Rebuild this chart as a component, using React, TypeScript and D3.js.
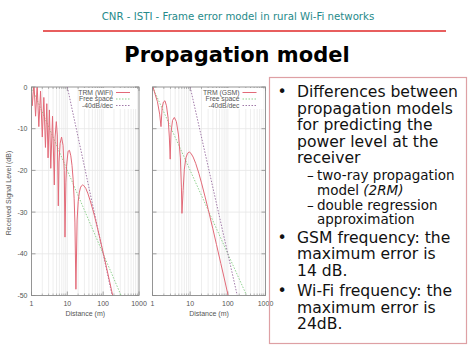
import React from "react";
import * as d3 from "d3";

// ---------- data (distance in m, level in dB) ----------
const TRM_WIFI: [number, number][] = [
  [1.0, -1.0], [1.05, -4.5], [1.17, 1.0], [1.3, -7.0], [1.44, 0.5], [1.6, -9.5],
  [1.79, -1.0], [2.0, -12.0], [2.21, -2.5], [2.45, -14.5], [2.67, -4.0], [2.9, -17.0],
  [3.16, -5.5], [3.45, -19.5], [3.86, -7.0], [4.33, -23.5], [4.55, -12.0], [4.93, -8.3],
  [5.25, -11.5], [5.6, -28.5], [5.85, -18.0], [6.3, -13.5], [6.9, -12.0], [7.6, -14.0],
  [8.2, -20.0], [8.6, -36.0], [9.1, -23.0], [9.5, -19.0], [10.5, -15.4], [11.5, -15.2],
  [12.5, -16.5], [13.5, -18.8], [14.5, -22.1], [15.5, -26.8], [16.3, -32.6], [17.35, -48.5],
  [18.74, -31.9], [20.09, -27.5], [21.54, -25.4], [23.1, -24.2], [24.77, -23.7], [26.56, -23.5],
  [28.48, -23.6], [32.75, -24.3], [37.65, -25.6], [43.29, -27.2], [49.77, -29.0], [57.22, -30.9],
  [65.79, -33.0], [81.11, -36.3], [100, -39.7], [123.3, -43.2], [152, -46.7], [187.4, -50.3],
  [200, -51.5],
];

const TRM_GSM: [number, number][] = [
  [1.0, 0.5], [1.15, -1.5], [1.35, -3.5], [1.55, -6.5], [1.68, -9.5], [1.8, -5.0],
  [1.95, -3.6], [2.14, -3.3], [2.35, -4.5], [2.6, -7.5], [2.8, -12.0], [2.95, -17.3],
  [3.1, -11.0], [3.4, -8.0], [3.8, -7.3], [4.3, -8.3], [4.9, -11.5], [5.5, -17.0],
  [5.85, -24.0], [6.05, -30.3], [6.5, -24.8], [7, -19.7], [7.7, -17.0], [8.5, -15.9],
  [9.5, -15.6], [10.5, -15.9], [12, -16.8], [14, -18.3], [17, -20.7], [20, -23.0],
  [25, -26.4], [30, -29.3], [40, -34.0], [50, -37.8], [65, -42.3], [80, -45.8],
  [100, -49.7], [110, -51.3],
];

const FREE_SPACE: [number, number][] = [[1, 0], [1000, -60]];
const SLOPE_40: [number, number][] = [[10, 0], [1000, -80]];

const X_TICKS = [1, 10, 100, 1000];
const Y_TICKS = [0, -10, -20, -30, -40, -50];
const LEGEND_LABELS = [["TRM (WiFi)", "Free space", "-40dB/dec"], ["TRM (GSM)", "Free space", "-40dB/dec"]];

const BODY_MAIN_1 = ["Differences between", "propagation models", "for predicting the", "power level at the", "receiver"];
const BODY_MAIN_2 = ["GSM frequency: the", "maximum error is", "14 dB."];
const BODY_MAIN_3 = ["Wi-Fi frequency: the", "maximum error is", "24dB."];

// ---------- styles ----------
const C_TRM = "#e26a78";
const C_FREE = "#8fd18f";
const C_S40 = "#a07aa8";
const C_GRID = "#e6e6e6";
const C_FRAME = "#8a8a8a";
const SMALL_FONT = "'Liberation Sans', Arial, sans-serif";
const BODY_FONT = "'DejaVu Sans', Verdana, sans-serif";

const Y0 = 87;
const Y1 = 295.5;

function Panel({ x0, x1, data, labels, showY, id }: any) {
  const x = d3.scaleLog().domain([1, 1000]).range([x0, x1]);
  const y = d3.scaleLinear().domain([-50, 0]).range([Y1, Y0]);
  const line = d3.line<[number, number]>().x((d) => x(d[0])).y((d) => y(d[1]));
  const minors: number[] = [];
  [1, 10, 100].forEach((dec) => {
    for (let m = 2; m <= 9; m++) minors.push(dec * m);
  });
  const legX = x1 - 26;
  const legY = [92.5, 99, 105.5];
  return (
    <g>
      <defs>
        <clipPath id={id}>
          <rect x={x0} y={Y0} width={x1 - x0} height={Y1 - Y0} />
        </clipPath>
      </defs>
      {/* grid */}
      {[...minors, 10, 100].map((v, i) => (
        <line key={"vg" + i} x1={x(v)} x2={x(v)} y1={Y0} y2={Y1} stroke={C_GRID} strokeWidth={0.7} />
      ))}
      {Y_TICKS.slice(1, 5).map((v) => (
        <line key={"hg" + v} x1={x0} x2={x1} y1={y(v)} y2={y(v)} stroke={C_GRID} strokeWidth={0.8} />
      ))}
      {/* ticks */}
      {minors.map((v, i) => (
        <g key={"mt" + i}>
          <line x1={x(v)} x2={x(v)} y1={Y1} y2={Y1 - 2} stroke={C_FRAME} strokeWidth={0.6} />
          <line x1={x(v)} x2={x(v)} y1={Y0} y2={Y0 + 2} stroke={C_FRAME} strokeWidth={0.6} />
        </g>
      ))}
      {X_TICKS.map((v) => (
        <g key={"xt" + v}>
          <line x1={x(v)} x2={x(v)} y1={Y1} y2={Y1 - 4} stroke={C_FRAME} strokeWidth={0.8} />
          <line x1={x(v)} x2={x(v)} y1={Y0} y2={Y0 + 4} stroke={C_FRAME} strokeWidth={0.8} />
          <text x={x(v)} y={306} fontSize={7} fontFamily={SMALL_FONT} fill="#555" textAnchor="middle">
            {v}
          </text>
        </g>
      ))}
      {Y_TICKS.map((v) => (
        <g key={"yt" + v}>
          <line x1={x0} x2={x0 + 4} y1={y(v)} y2={y(v)} stroke={C_FRAME} strokeWidth={0.8} />
          <line x1={x1} x2={x1 - 4} y1={y(v)} y2={y(v)} stroke={C_FRAME} strokeWidth={0.8} />
          {showY && (
            <text x={x0 - 4} y={y(v) + 2.5} fontSize={7} fontFamily={SMALL_FONT} fill="#555" textAnchor="end">
              {v}
            </text>
          )}
        </g>
      ))}
      <text x={(x0 + x1) / 2} y={315.5} fontSize={7} fontFamily={SMALL_FONT} fill="#555" textAnchor="middle">
        Distance (m)
      </text>
      {/* curves */}
      <g clipPath={`url(#${id})`}>
        <path d={line(FREE_SPACE) || ""} fill="none" stroke={C_FREE} strokeWidth={1} strokeDasharray="1.5,1.5" />
        <path d={line(SLOPE_40) || ""} fill="none" stroke={C_S40} strokeWidth={1} strokeDasharray="1.5,1.5" />
        <path d={line(data) || ""} fill="none" stroke={C_TRM} strokeWidth={1} strokeLinejoin="round" />
      </g>
      {/* legend */}
      <rect x={legX - 33} y={Y0 + 1} width={x1 - legX + 31} height={21} fill="#fff" />
      {labels.map((t: string, i: number) => (
        <g key={t}>
          <text x={legX} y={legY[i] + 2.3} fontSize={6.8} fontFamily={SMALL_FONT} fill="#555" textAnchor="end">
            {t}
          </text>
          <line
            x1={legX + 3}
            x2={legX + 17}
            y1={legY[i]}
            y2={legY[i]}
            stroke={i === 0 ? C_TRM : i === 1 ? C_FREE : C_S40}
            strokeWidth={1}
            strokeDasharray={i === 0 ? undefined : "1.5,1.5"}
          />
        </g>
      ))}
      <rect x={x0} y={Y0} width={x1 - x0} height={Y1 - Y0} fill="none" stroke={C_FRAME} strokeWidth={0.9} />
    </g>
  );
}

export default function App() {
  const mainX = 297;
  const mainSize = 15.6;
  const subSize = 13.5;
  return (
    <svg width={474} height={355} style={{ position: "absolute", left: 0, top: 0, background: "#fff" }}>
      <rect width={474} height={355} fill="#fff" />
      <text x={238} y={20} fontSize={10.2} fontFamily={BODY_FONT} fill="#258a8a" textAnchor="middle">
        CNR - ISTI - Frame error model in rural Wi-Fi networks
      </text>
      <line x1={43} x2={446} y1={31} y2={31} stroke="#e02828" strokeWidth={1.3} />
      <text x={237} y={62} fontSize={21} fontWeight="bold" fontFamily={BODY_FONT} fill="#000" textAnchor="middle">
        Propagation model
      </text>

      <Panel x0={31.5} x1={139} data={TRM_WIFI} labels={LEGEND_LABELS[0]} showY={true} id="clipA" />
      <Panel x0={152.5} x1={265.5} data={TRM_GSM} labels={LEGEND_LABELS[1]} showY={false} id="clipB" />
      <text
        transform="translate(11,193) rotate(-90)"
        fontSize={7}
        fontFamily={SMALL_FONT}
        fill="#555"
        textAnchor="middle"
      >
        Received Signal Level (dB)
      </text>

      {/* text box */}
      <rect x={269.5} y={77.5} width={197} height={266} fill="none" stroke="#dea0a4" strokeWidth={1.2} />
      <g fontFamily={BODY_FONT} fill="#111">
        <text x={282} y={97} fontSize={mainSize} textAnchor="middle">•</text>
        {BODY_MAIN_1.map((t, i) => (
          <text key={"a" + i} x={mainX} y={97 + i * 16.5} fontSize={mainSize}>{t}</text>
        ))}
        <text x={307} y={180} fontSize={subSize}>–</text>
        <text x={317} y={180} fontSize={subSize}>two-ray propagation</text>
        <text x={317} y={194.5} fontSize={subSize}>
          model <tspan fontStyle="italic">(2RM)</tspan>
        </text>
        <text x={307} y={209.5} fontSize={subSize}>–</text>
        <text x={317} y={209.5} fontSize={subSize}>double regression</text>
        <text x={317} y={224} fontSize={subSize}>approximation</text>
        <text x={282} y={242.5} fontSize={mainSize} textAnchor="middle">•</text>
        {BODY_MAIN_2.map((t, i) => (
          <text key={"b" + i} x={mainX} y={242.5 + i * 16.5} fontSize={mainSize}>{t}</text>
        ))}
        <text x={282} y={296} fontSize={mainSize} textAnchor="middle">•</text>
        {BODY_MAIN_3.map((t, i) => (
          <text key={"c" + i} x={mainX} y={296 + i * 16.5} fontSize={mainSize}>{t}</text>
        ))}
      </g>
    </svg>
  );
}
